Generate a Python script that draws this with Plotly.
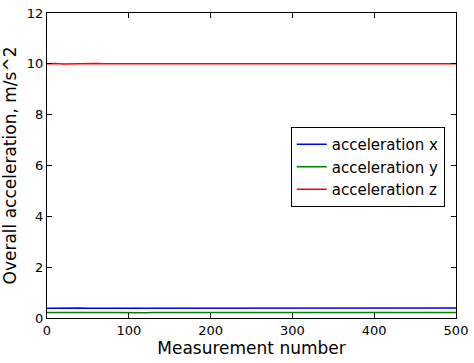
import plotly.graph_objects as go

# Measurement numbers (sampled every 10)
measurement = list(range(0, 501, 10))

acc_x = [0.38, 0.39, 0.38, 0.38, 0.39, 0.38, 0.38, 0.39, 0.38, 0.38,
         0.39, 0.38, 0.38, 0.39, 0.38, 0.38, 0.38, 0.39, 0.38, 0.39,
         0.38, 0.38, 0.38, 0.39, 0.38, 0.39, 0.38, 0.38, 0.38, 0.39,
         0.38, 0.38, 0.38, 0.39, 0.38, 0.38, 0.39, 0.38, 0.38, 0.38,
         0.39, 0.38, 0.38, 0.38, 0.39, 0.38, 0.38, 0.39, 0.38, 0.38, 0.39]

acc_y = [0.22, 0.21, 0.22, 0.22, 0.22, 0.21, 0.22, 0.22, 0.22, 0.21,
         0.22, 0.22, 0.21, 0.22, 0.22, 0.22, 0.21, 0.22, 0.22, 0.22,
         0.21, 0.22, 0.22, 0.22, 0.21, 0.22, 0.22, 0.22, 0.21, 0.22,
         0.22, 0.22, 0.21, 0.22, 0.22, 0.22, 0.21, 0.22, 0.22, 0.22,
         0.22, 0.21, 0.22, 0.22, 0.22, 0.21, 0.22, 0.22, 0.21, 0.22, 0.22]

acc_z = [10.00, 10.01, 9.99, 10.00, 10.00, 10.00, 10.01, 10.00, 10.00, 9.99,
         10.00, 10.01, 10.00, 10.00, 10.00, 9.99, 10.00, 10.00, 10.00, 10.01,
         10.00, 10.00, 10.00, 9.99, 10.00, 10.01, 10.00, 10.00, 10.00, 10.00,
         9.99, 10.00, 10.00, 10.01, 10.00, 10.00, 10.00, 9.99, 10.00, 10.01,
         10.00, 10.00, 10.00, 9.99, 10.00, 10.00, 10.01, 10.00, 10.00, 10.00, 10.00]

x_ticks = [0, 100, 200, 300, 400, 500]
y_ticks = [0, 2, 4, 6, 8, 10, 12]

fig = go.Figure()
fig.add_trace(go.Scatter(x=measurement, y=acc_x, mode="lines", name="acceleration x",
                         line=dict(color="#0000ff", width=1.5)))
fig.add_trace(go.Scatter(x=measurement, y=acc_y, mode="lines", name="acceleration y",
                         line=dict(color="#008000", width=1.5)))
fig.add_trace(go.Scatter(x=measurement, y=acc_z, mode="lines", name="acceleration z",
                         line=dict(color="#ff0000", width=1.5)))

axis_common = dict(showline=True, linecolor="black", linewidth=1, mirror="ticks",
                   ticks="inside", ticklen=5, tickcolor="black", showgrid=False,
                   zeroline=False, automargin=False,
                   tickfont=dict(family="DejaVu Sans", size=13, color="black"))

fig.update_layout(
    width=474, height=363,
    margin=dict(l=47, r=18, t=13, b=45),
    paper_bgcolor="white", plot_bgcolor="white",
    font=dict(family="DejaVu Sans", color="black"),
    xaxis=dict(range=[0, 500], tickvals=x_ticks,
               title=dict(text="Measurement number", font=dict(size=17), standoff=2),
               **axis_common),
    yaxis=dict(range=[0, 12], tickvals=y_ticks,
               title=dict(text="Overall acceleration, m/s^2", font=dict(size=17), standoff=5),
               **axis_common),
    legend=dict(x=0.596, y=0.626, xanchor="left", yanchor="top",
                bordercolor="black", borderwidth=1, bgcolor="white",
                font=dict(size=15, family="DejaVu Sans"),
                tracegroupgap=0),
    showlegend=True,
)

fig.write_html("out.html", config={"displayModeBar": False},
               post_script="document.body.style.margin='0';")
